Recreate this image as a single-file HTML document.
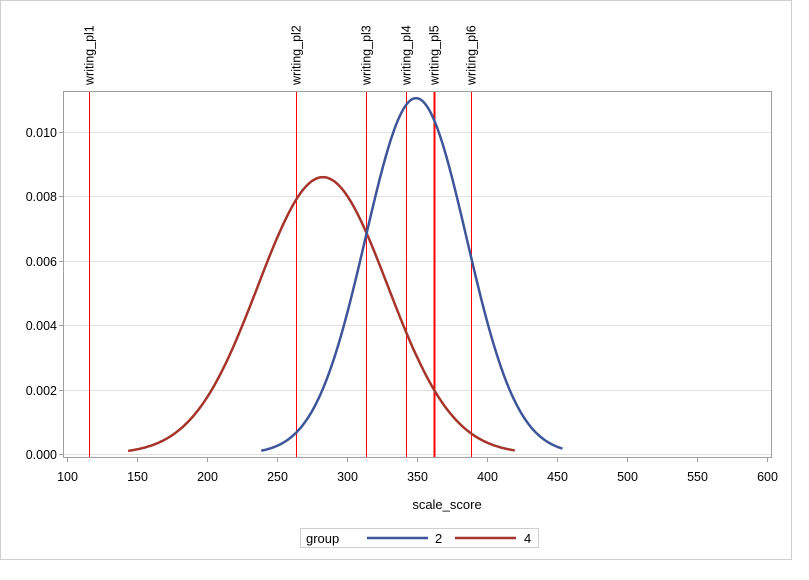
<!DOCTYPE html>
<html><head><meta charset="utf-8"><style>
body{margin:0;background:#fff}
svg{display:block;font-family:"Liberation Sans",Arial,sans-serif}
</style></head><body>
<svg id="s" width="809" height="580" xmlns="http://www.w3.org/2000/svg">
<rect x="0.5" y="0.5" width="791" height="559" fill="#fff" stroke="#cfcfcf"/>
<g id="grid" stroke="#e2e2e2" stroke-width="1"></g>
<g id="lines"></g>
<rect x="63.5" y="91.5" width="708" height="366" fill="none" stroke="#a0a0a0"/>
<g id="axes" font-size="12.5" fill="#000"></g>
<text x="447" y="509" font-size="13" text-anchor="middle">scale_score</text>
<rect x="300.5" y="528.5" width="238" height="19" fill="#fff" stroke="#cfcfcf"/>
<text x="306" y="543" font-size="13">group</text>
<line x1="367" y1="538" x2="428" y2="538" stroke="#3f5599" stroke-width="2.5"/>
<text x="435" y="543" font-size="13">2</text>
<line x1="455" y1="538" x2="516" y2="538" stroke="#a5352b" stroke-width="2.5"/>
<text x="524" y="543" font-size="13">4</text>
</svg>
<script>
var NS="http://www.w3.org/2000/svg";
function X(v){return 66.5+(v-100)*1.401}
function Y(v){return 454-v*32200}
function el(p,t,a,txt){var e=document.createElementNS(NS,t);for(var k in a)e.setAttribute(k,a[k]);if(txt)e.textContent=txt;document.getElementById(p).appendChild(e);return e}
for(var i=0;i<=5;i++){var y=Math.round(Y(i*0.002))+0.5;el("grid","line",{x1:64,x2:771,y1:y,y2:y});
el("axes","text",{x:57,y:y+4.5,"text-anchor":"end"},(i*0.002).toFixed(3));
el("axes","line",{x1:59,x2:63,y1:y,y2:y,stroke:"#a0a0a0"});}
for(var v=100;v<=600;v+=50){var x=Math.round(X(v))+0.5;el("axes","line",{x1:x,x2:x,y1:458,y2:462,stroke:"#a0a0a0"});
el("axes","text",{x:x,y:481,"text-anchor":"middle"},v);}
var refs=[[89.5,1],[296.5,1],[366.5,1],[406.5,1],[434.5,2],[471.5,1]];
refs.forEach(function(r,i){el("lines","line",{x1:r[0],x2:r[0],y1:92,y2:457,stroke:"#ff0000","stroke-width":r[1]});
el("lines","text",{transform:"translate("+(r[0]+4)+",85) rotate(-90)","font-size":"12.5"},"writing_pl"+(i+1));});
function curve(mu,sd,a,b,col){var d="";for(var v=a;v<=b;v+=1){var f=Math.exp(-0.5*Math.pow((v-mu)/sd,2))/(sd*Math.sqrt(2*Math.PI));d+=(v==a?"M":"L")+X(v).toFixed(1)+","+Y(f).toFixed(1);}
el("lines","path",{d:d,fill:"none",stroke:col,"stroke-width":2.5});}
curve(283,46.4,144,420,"#a5352b");
curve(349.5,36.1,239,454,"#3f5599");
</script>
</body></html>
